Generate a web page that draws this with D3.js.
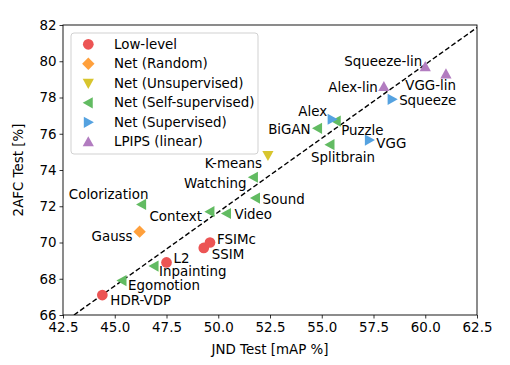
<!DOCTYPE html>
<html><head><meta charset="utf-8">
<script src="https://cdn.jsdelivr.net/npm/d3@7"></script>
<style>
html,body{margin:0;padding:0;background:#fff;}
text{font-family:"DejaVu Sans",sans-serif;fill:#000;}
</style></head>
<body><svg id="c" width="510" height="365"></svg>
<script>
// ---- data ----
const groups = ["Low-level","Net (Random)","Net (Unsupervised)","Net (Self-supervised)","Net (Supervised)","LPIPS (linear)"];
const names = ["HDR-VDP","L2","SSIM","FSIMc","Gauss","K-means","Colorization","Context","Video","Sound","Watching","Inpainting","Egomotion","BiGAN","Puzzle","Splitbrain","Alex","VGG","Squeeze","Squeeze-lin","VGG-lin","Alex-lin"];
const groupOf = [0,0,0,0,1,2,3,3,3,3,3,3,3,3,3,3,4,4,4,5,5,5];
const jnd  = [44.4,47.5,49.3,49.6,46.2,52.4,46.3,49.6,50.4,51.8,51.7,46.9,45.35,54.8,55.7,55.4,55.5,57.3,58.4,60.0,61.0,58.0];
const afc  = [67.1,68.9,69.7,70.0,70.6,74.8,72.1,71.7,71.6,72.45,73.6,68.7,67.9,76.3,76.7,75.4,76.8,75.65,77.9,79.7,79.3,78.6];
const xTicks = [42.5,45.0,47.5,50.0,52.5,55.0,57.5,60.0,62.5];
const yTicks = [66,68,70,72,74,76,78,80,82];
const fitLine = [[43.03,66],[62.5,81.86]];

// ---- styles / layout ----
const colors = ["#ec5454","#ffa03c","#d8c52e","#62bb62","#55a2e0","#b27cc0"];
const symbols = ["circle","diamond","down","left","right","up"];
const FS = "13.4px";
// label placement: [dx, dy, anchor]
const labelPos = {
 "HDR-VDP":[8,5,"start"],"L2":[7,-4,"start"],"SSIM":[8,6,"start"],"FSIMc":[7,-3,"start"],
 "Gauss":[-7,5,"end"],"K-means":[-6,8,"end"],"Colorization":[-33,-10,"middle"],"Context":[-8,5,"end"],
 "Video":[8,1,"start"],"Sound":[7,1,"start"],"Watching":[-7,6,"end"],"Inpainting":[5,5,"start"],
 "Egomotion":[6,5,"start"],"BiGAN":[-7,1,"end"],"Puzzle":[5,9,"start"],"Splitbrain":[13,13,"middle"],
 "Alex":[-5,-8,"end"],"VGG":[7,3,"start"],"Squeeze":[7,1,"start"],"Squeeze-lin":[-3,-5,"end"],
 "VGG-lin":[10,11,"end"],"Alex-lin":[-6,1,"end"]
};
const L=63,R=477,T=25,B=315;

const svg = d3.select("#c");
const x = d3.scaleLinear().domain([42.5,62.5]).range([L,R]);
const y = d3.scaleLinear().domain([66,82]).range([B,T]);

function markerPath(g){
  const t = symbols[g], s = 5.6;
  if (t==="circle") return d3.symbol(d3.symbolCircle,90)();
  let p;
  if (t==="diamond") p=[[0,-6.2],[6.2,0],[0,6.2],[-6.2,0]];
  else p = {up:[[0,-s],[s,s*0.8],[-s,s*0.8]],down:[[0,s],[s,-s*0.8],[-s,-s*0.8]],
             left:[[-s,0],[s*0.8,-s],[s*0.8,s]],right:[[s,0],[-s*0.8,-s],[-s*0.8,s]]}[t];
  return "M"+p.map(q=>q.join(",")).join("L")+"Z";
}

// clip
svg.append("defs").append("clipPath").attr("id","clip").append("rect")
  .attr("x",L).attr("y",T).attr("width",R-L).attr("height",B-T);

// axes
const xa = svg.append("g").attr("transform",`translate(0,${B})`)
  .call(d3.axisBottom(x).tickValues(xTicks).tickFormat(d3.format(".1f")).tickSizeOuter(0).tickSize(3.5).tickPadding(3));
const ya = svg.append("g").attr("transform",`translate(${L},0)`)
  .call(d3.axisLeft(y).tickValues(yTicks).tickFormat(d3.format("d")).tickSizeOuter(0).tickSize(3.5).tickPadding(3));
[xa,ya].forEach(a=>{a.selectAll("text").attr("font-size",FS).attr("font-family","DejaVu Sans").attr("fill","#000");
  a.select(".domain").remove(); a.selectAll("line").attr("stroke","#000").attr("stroke-width",0.8);});
xa.selectAll("text").attr("dy","0.75em");

// dashed fit line
svg.append("path").attr("clip-path","url(#clip)")
  .attr("d",d3.line().x(d=>x(d[0])).y(d=>y(d[1]))(fitLine))
  .attr("stroke","#000").attr("stroke-width",1.4).attr("stroke-dasharray","5,2.6").attr("fill","none");

// points
const pts = names.map((n,i)=>({n,g:groupOf[i],x:jnd[i],y:afc[i]}));
svg.append("g").selectAll("path").data(pts).join("path")
  .attr("transform",d=>`translate(${x(d.x)},${y(d.y)})`)
  .attr("d",d=>markerPath(d.g)).attr("fill",d=>colors[d.g]);

// labels
svg.append("g").selectAll("text").data(pts).join("text")
  .attr("x",d=>x(d.x)+labelPos[d.n][0]).attr("y",d=>y(d.y)+labelPos[d.n][1])
  .attr("dy","0.35em").attr("text-anchor",d=>labelPos[d.n][2])
  .attr("font-size",FS).text(d=>d.n);

// frame
svg.append("rect").attr("x",L).attr("y",T).attr("width",R-L).attr("height",B-T)
  .attr("fill","none").attr("stroke","#000").attr("stroke-width",0.9);

// legend
const lg = svg.append("g");
lg.append("rect").attr("x",71).attr("y",33).attr("width",187).attr("height",121).attr("rx",3)
  .attr("fill","#fff").attr("fill-opacity",0.8).attr("stroke","#cccccc").attr("stroke-width",0.9);
groups.forEach((g,i)=>{
  const yy = 44.3 + i*19.5;
  lg.append("path").attr("transform",`translate(88.3,${yy})`).attr("d",markerPath(i)).attr("fill",colors[i]);
  lg.append("text").attr("x",114).attr("y",yy).attr("dy","0.35em").attr("font-size",FS).text(g);
});

// axis labels
svg.append("text").attr("x",(L+R)/2).attr("y",354).attr("text-anchor","middle").attr("font-size",FS).text("JND Test [mAP %]");
svg.append("text").attr("transform",`translate(23,${(T+B)/2}) rotate(-90)`).attr("text-anchor","middle").attr("font-size",FS).text("2AFC Test [%]");
</script></body></html>
